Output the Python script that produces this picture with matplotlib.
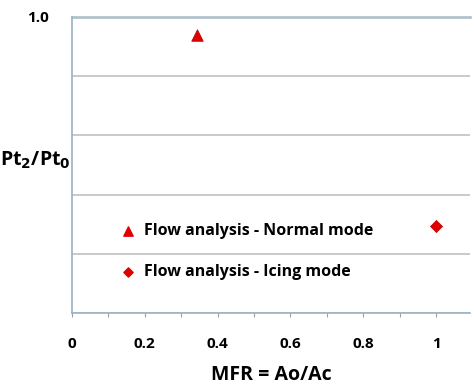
import numpy as np
import matplotlib.pyplot as plt

# data
normal_mfr = [0.343]
normal_pt = [0.970]
icing_mfr = [1.0]
icing_pt = [0.647]

xticks = np.round(np.arange(0, 1.01, 0.1), 1)
xticklabels = ['0', '', '0.2', '', '0.4', '', '0.6', '', '0.8', '', '1']
yticks = [0.5, 0.6, 0.7, 0.8, 0.9, 1.0]
yticklabels = ['', '', '', '', '', '1.0']

plt.rcParams['font.family'] = ['Open Sans', 'DejaVu Sans']
plt.rcParams['font.weight'] = 'bold'

fig = plt.figure(figsize=(4.74, 3.89), dpi=100)
ax = fig.add_axes([72/474, 1 - 313/389, (470-72)/474, (313-17)/389])

ax.scatter(normal_mfr, normal_pt, marker='^', s=70, color='#e00000',
           edgecolors='#c00000', linewidths=0.5, zorder=3)
ax.scatter(icing_mfr, icing_pt, marker='D', s=38, color='#e00000',
           edgecolors='#c00000', linewidths=0.5, zorder=3)

ax.set_xlim(0, (470-72)/364)
ax.set_ylim(0.5, 1.0)
ax.set_xticks(xticks)
ax.set_xticklabels(xticklabels, fontsize=11, fontweight='bold')
ax.set_yticks(yticks)
ax.set_yticklabels(yticklabels, fontsize=11, fontweight='bold')
ax.tick_params(axis='x', length=3, color='#a0a0a0', pad=14)
ax.tick_params(axis='y', length=0, pad=17)

ax.grid(axis='y', color='#c0c0c0', linewidth=1.2)
for s in ['top', 'right']:
    ax.spines[s].set_visible(False)
ax.spines['left'].set_color('#9ab3c3')
ax.spines['bottom'].set_color('#9ab3c3')
ax.spines['left'].set_linewidth(1.2)
ax.spines['bottom'].set_linewidth(1.2)
ax.axhline(1.0, color='#a5b8c5', linewidth=1.8, zorder=1, clip_on=False)

ax.set_xlabel('MFR = Ao/Ac', fontsize=14, fontweight='bold', labelpad=10)
ax.set_ylabel('Pt$_2$/Pt$_0$', fontsize=14, fontweight='bold', rotation=0,
              va='center', ha='center')
ax.yaxis.set_label_coords((35-72)/398, 1 - (160-17)/296)

# legend drawn by hand as in the original
lx = (128-72)/364
ax.scatter([lx], [1.0 - (231-17)/296*0.5], marker='^', s=45, color='#e00000', zorder=3)
ax.text(lx + 0.045, 1.0 - (231-17)/296*0.5, 'Flow analysis - Normal mode',
        fontsize=11.5, fontweight='bold', va='center')
ax.scatter([lx], [1.0 - (272-17)/296*0.5], marker='D', s=22, color='#e00000', zorder=3)
ax.text(lx + 0.045, 1.0 - (272-17)/296*0.5, 'Flow analysis - Icing mode',
        fontsize=11.5, fontweight='bold', va='center')

fig.savefig('out.png', dpi=100)
